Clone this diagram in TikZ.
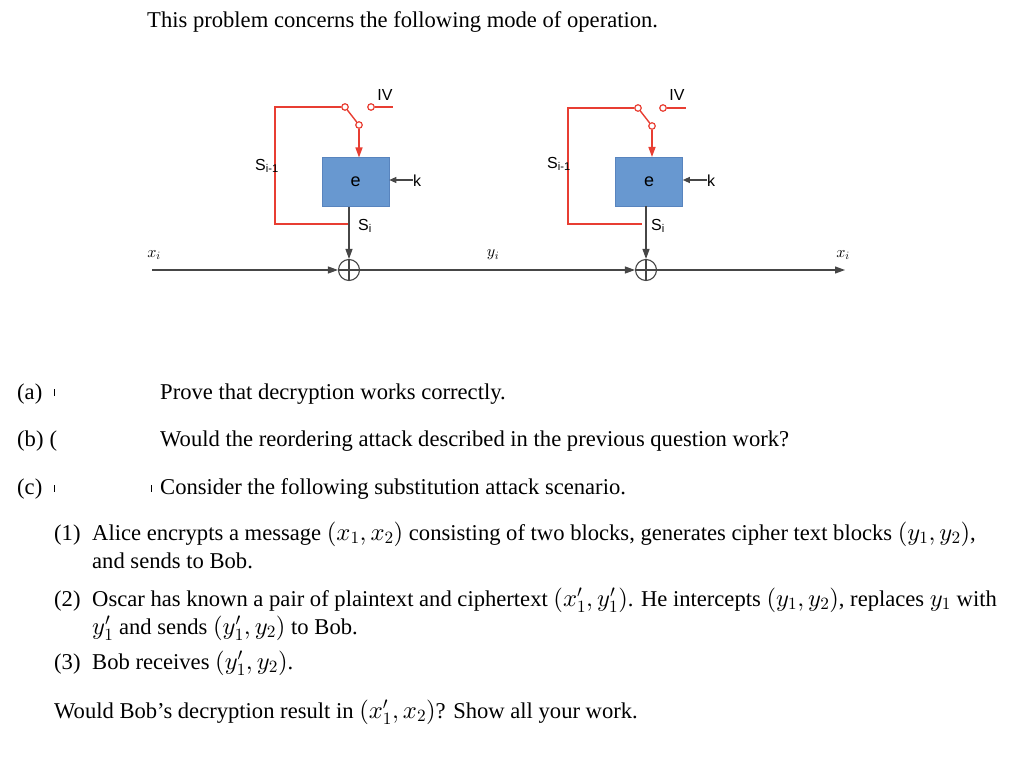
\documentclass[tikz,border=0pt]{standalone}
\DeclareFontShape{OT1}{cmr}{m}{n}{<-> cmr10}{}
\DeclareFontShape{OML}{cmm}{m}{it}{<-> cmmi10}{}
\DeclareFontShape{OMS}{cmsy}{m}{n}{<-> cmsy10}{}
\DeclareMathSizes{22.6}{24.6}{17.2}{12.5}
\usepackage{fontspec}
\setmainfont{Liberation Serif}
\newfontfamily\arialf{Liberation Sans}
\usetikzlibrary{arrows.meta}
\definecolor{fbred}{RGB}{232,62,50}
\definecolor{boxblue}{RGB}{104,152,208}
\definecolor{boxedge}{RGB}{88,132,190}
\definecolor{wire}{RGB}{70,70,70}
\tikzset{
  redline/.style={draw=fbred, line width=1.4pt},
  sw/.style={circle, draw=fbred, line width=1.2pt, fill=white, inner sep=0pt, minimum size=6.5pt},
  blk/.style={rectangle, fill=boxblue, draw=boxedge, line width=0.6pt, minimum width=67pt, minimum height=49pt, inner sep=0pt, font=\arialf\fontsize{18}{18}\selectfont},
  xorn/.style={circle, draw=wire, line width=1.1pt, minimum size=21pt, inner sep=0pt},
  wirel/.style={draw=wire, line width=1.1pt},
  arr/.style={-{Triangle[length=10pt,width=7pt]}},
  karr/.style={-{Triangle[length=7pt,width=6pt]}},
  lab/.style={font=\arialf\fontsize{16}{16}\selectfont, inner sep=0pt},
  mlab/.style={font=\fontsize{16}{16}\selectfont, inner sep=0pt},
  txt/.style={anchor=base west, inner sep=0pt, font=\fontsize{22.6}{26}\selectfont},
}
\begin{document}
\begin{tikzpicture}[x=1pt,y=-1pt]
\useasboundingbox (0,0) rectangle (1024,770);

\node[txt] (title) at (147,28) {This problem concerns the following mode of operation.};

% ---------- left block ----------
\node[blk] (e1) at (355.5,182) {e};
\node[sw] (t1) at (345,107) {};
\node[sw] (b1) at (359,125) {};
\node[sw] (iv1) at (371,107) {};
\coordinate (ivend1) at (393,107);
\coordinate (ul1) at (275,107);
\coordinate (ll1) at (275,224);
\coordinate (lr1) at (350,224);
\coordinate (ein1) at (359,157.5);
\coordinate (k1s) at (413,180);
\node[xorn] (x1) at (349,270) {};
\draw[redline] (t1) -- (ul1) -- (ll1) -- (lr1);
\draw[redline] (t1) -- (b1);
\draw[redline] (iv1) -- (ivend1);
\draw[redline, arr] (b1) -- (ein1);
\draw[wirel, arr] (e1.south -| x1) -- (x1.north);
\draw[wirel] (x1.north) -- (x1.south) (x1.west) -- (x1.east);
\draw[wirel, karr] (k1s) -- (e1.east |- k1s);
\node[lab, anchor=west] (k1) at (413,181) {k};
\node[lab] (ivl1) at (385,95) {IV};
\node[lab, anchor=east] (s1a) at (279,166) {S\textsubscript{i-1}};
\node[lab, anchor=west] (s1b) at (358,226) {S\textsubscript{i}};

% ---------- right block ----------
\node[blk] (e2) at (649,181.5) {e};
\node[sw] (t2) at (638,108) {};
\node[sw] (b2) at (652,126) {};
\node[sw] (iv2) at (663,108) {};
\coordinate (ivend2) at (686,108);
\coordinate (ul2) at (568,108);
\coordinate (ll2) at (568,224);
\coordinate (lr2) at (642,224);
\coordinate (ein2) at (652,157);
\coordinate (k2s) at (707,180);
\node[xorn] (x2) at (646,270) {};
\draw[redline] (t2) -- (ul2) -- (ll2) -- (lr2);
\draw[redline] (t2) -- (b2);
\draw[redline] (iv2) -- (ivend2);
\draw[redline, arr] (b2) -- (ein2);
\draw[wirel, arr] (e2.south -| x2) -- (x2.north);
\draw[wirel] (x2.north) -- (x2.south) (x2.west) -- (x2.east);
\draw[wirel, karr] (k2s) -- (e2.east |- k2s);
\node[lab, anchor=west] (k2) at (707,181) {k};
\node[lab] (ivl2) at (677,95) {IV};
\node[lab, anchor=east] (s2a) at (571,164) {S\textsubscript{i-1}};
\node[lab, anchor=west] (s2b) at (651,226) {S\textsubscript{i}};

% ---------- main line ----------
\coordinate (start) at (152,270);
\coordinate (stop) at (845,270);
\draw[wirel, arr] (start) -- (x1.west);
\draw[wirel, arr] (x1.east) -- (x2.west);
\draw[wirel, arr] (x2.east) -- (stop);
\node[mlab] (xl) at (154,255) {$x_i$};
\node[mlab] (yl) at (493,255) {$y_i$};
\node[mlab] (xr) at (843,255) {$x_i$};

% ---------- questions ----------
\node[txt] (qa) at (17,399) {(a)};
\draw[line width=0.5pt] (54.5,389) -- (54.5,396);
\node[txt] (ta) at (160,399) {Prove that decryption works correctly.};
\node[txt] (qb) at (17,446) {(b)\hspace{6pt}(};
\node[txt] (tb) at (160,446) {Would the reordering attack described in the previous question work?};
\node[txt] (qc) at (17,494) {(c)};
\draw[line width=0.5pt] (54.5,485) -- (54.5,492);
\draw[line width=0.5pt] (151.5,485) -- (151.5,492);
\node[txt] (tc) at (160,494) {Consider the following substitution attack scenario.};

\node[txt] (n1) at (54,540) {(1)};
\node[txt] (l1a) at (92,540) {Alice encrypts a message $(x_1,x_2)$ consisting of two blocks, generates cipher text blocks $(y_1,y_2)$,};
\node[txt] (l1b) at (92,568) {and sends to Bob.};
\node[txt] (n2) at (54,606) {(2)};
\node[txt] (l2a) at (92,606) {Oscar has known a pair of plaintext and ciphertext $(x_1',y_1')$. He intercepts $(y_1,y_2)$, replaces $y_1$ with};
\node[txt] (l2b) at (92,634) {$y_1'$ and sends $(y_1',y_2)$ to Bob.};
\node[txt] (n3) at (54,669) {(3)};
\node[txt] (l3) at (92,669) {Bob receives $(y_1',y_2)$.};
\node[txt] (last) at (54,718) {Would Bob's decryption result in $(x_1',x_2)$? Show all your work.};
\end{tikzpicture}
\end{document}
